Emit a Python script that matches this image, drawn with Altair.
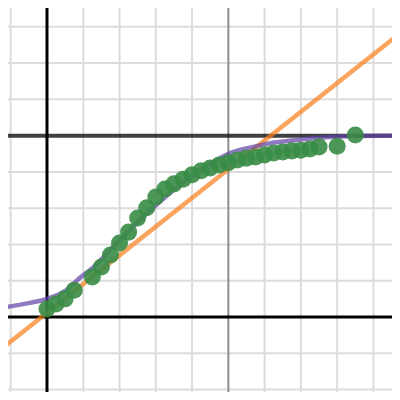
import altair as alt
import pandas as pd

# --- data (grid units) ---
pts_x = [0, 0.25, 0.5, 0.75, 1.25, 1.5, 1.75, 2, 2.25, 2.5, 2.75, 3, 3.25, 3.5,
         3.75, 4, 4.25, 4.5, 4.75, 5, 5.25, 5.5, 5.75, 6, 6.25, 6.5, 6.75, 7,
         7.25, 7.5, 8, 8.5]
pts_y = [0.22, 0.36, 0.50, 0.74, 1.10, 1.38, 1.71, 2.04, 2.34, 2.73, 3.01, 3.31,
         3.53, 3.67, 3.80, 3.92, 4.03, 4.11, 4.19, 4.25, 4.33, 4.38, 4.41, 4.47,
         4.52, 4.55, 4.58, 4.60, 4.63, 4.69, 4.71, 5.02]

curve_x = [-1.5, -1.30, -0.47, 0, 0.50, 0.91, 1.32, 1.74, 2.15, 2.56, 2.98, 3.39,
           3.80, 4.22, 4.63, 5.05, 5.68, 6.20, 6.62, 7.53, 8.44, 10.0]
curve_y = [0.22, 0.25, 0.39, 0.50, 0.72, 1.08, 1.41, 1.85, 2.26, 2.67, 3.06, 3.42,
           3.75, 4.05, 4.30, 4.52, 4.69, 4.80, 4.85, 4.94, 4.99, 5.0]

line_x = [-1.5, 10.0]
line_y = [-1.07, 8.03]

asymptote_y = [5]
axis_x = [0]
axis_y = [0]
major_x = [5]
minor_x = [-1, 1, 2, 3, 4, 6, 7, 8, 9]
minor_y = [-2, -1, 1, 2, 3, 4, 6, 7, 8]

xs = alt.Scale(domain=[-1.075, 9.512], nice=False, zero=False)
ys = alt.Scale(domain=[-2.068, 8.519], nice=False, zero=False)

def vrules(vals, color, width, opacity=1.0):
    return alt.Chart(pd.DataFrame({"v": vals})).mark_rule(
        color=color, strokeWidth=width, opacity=opacity
    ).encode(x=alt.X("v:Q", scale=xs, axis=None))

def hrules(vals, color, width, opacity=1.0):
    return alt.Chart(pd.DataFrame({"v": vals})).mark_rule(
        color=color, strokeWidth=width, opacity=opacity
    ).encode(y=alt.Y("v:Q", scale=ys, axis=None))

grid = alt.layer(
    vrules(minor_x, "#dcdcdc", 2),
    hrules(minor_y, "#dcdcdc", 2),
    vrules(major_x, "#8e8e8e", 2),
)
axes = alt.layer(
    vrules(axis_x, "#000000", 3),
    hrules(axis_y, "#000000", 3),
)
asym = hrules(asymptote_y, "#000000", 4, 0.75)

orange = alt.Chart(pd.DataFrame({"x": line_x, "y": line_y})).mark_line(
    color="#fa7e19", strokeWidth=4.5, opacity=0.7, clip=True, strokeCap="round"
).encode(x=alt.X("x:Q", scale=xs, axis=None), y=alt.Y("y:Q", scale=ys, axis=None))

purple = alt.Chart(pd.DataFrame({"x": curve_x, "y": curve_y})).mark_line(
    color="#6042a6", strokeWidth=4.5, opacity=0.7, clip=True, interpolate="monotone",
    strokeCap="round"
).encode(x=alt.X("x:Q", scale=xs, axis=None), y=alt.Y("y:Q", scale=ys, axis=None))

points = alt.Chart(pd.DataFrame({"x": pts_x, "y": pts_y})).mark_circle(
    color="#388c46", size=290, opacity=0.9
).encode(x=alt.X("x:Q", scale=xs, axis=None), y=alt.Y("y:Q", scale=ys, axis=None))

chart = alt.layer(grid, axes, asym, orange, purple, points).properties(
    width=384, height=384, padding=0, autosize="none", background="white"
).configure_view(stroke=None)

chart.save("out.html", embed_options={"renderer": "svg", "actions": False})
